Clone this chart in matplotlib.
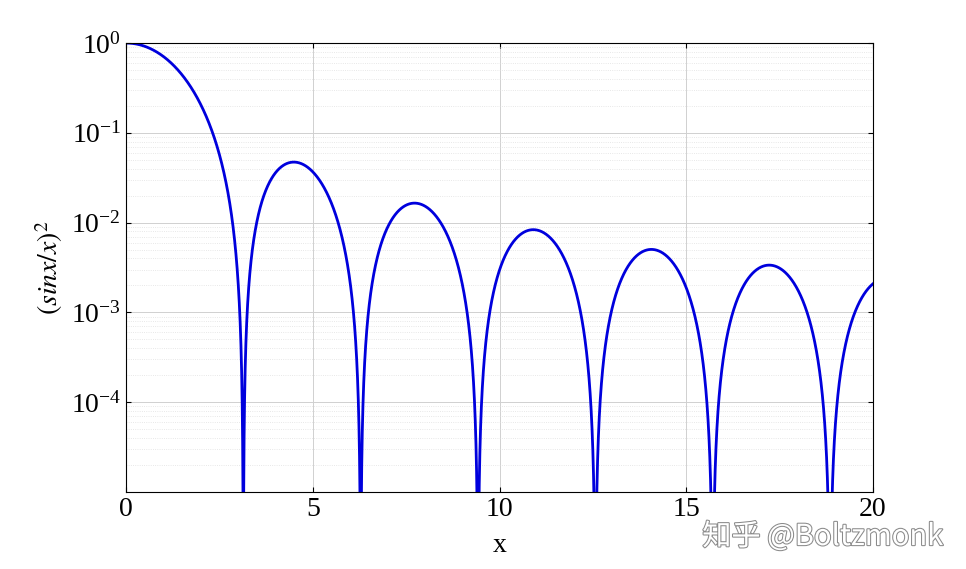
import numpy as np
import matplotlib
matplotlib.use("Agg")
import matplotlib.pyplot as plt
import matplotlib.patheffects as pe

plt.rcParams['font.family'] = ['Liberation Serif', 'DejaVu Serif']
plt.rcParams['mathtext.fontset'] = 'stix'

x_min, x_max = 0, 20
x = np.linspace(1e-6, x_max, 20001)
y = (np.sin(x) / x) ** 2

xticks = [0, 5, 10, 15, 20]
yticks = [1e-4, 1e-3, 1e-2, 1e-1, 1e0]
ytick_labels = [r'$\mathregular{10^{-4}}$', r'$\mathregular{10^{-3}}$', r'$\mathregular{10^{-2}}$',
                r'$\mathregular{10^{-1}}$', r'$\mathregular{10^{0}}$']

fig = plt.figure(figsize=(9.66, 5.69), dpi=100)
ax = fig.add_axes([126/966, 1-492/569, (873-126)/966, (492-43)/569])
ax.semilogy(x, y, color='#0000dd', lw=2)
ax.set_xlim(x_min, x_max)
ax.set_ylim(1e-5, 1)
ax.set_xticks(xticks)
ax.set_yticks(yticks)
ax.set_yticklabels(ytick_labels)
ax.grid(True, which='major', color='#d0d0d0', lw=0.7)
ax.grid(True, which='minor', color='#e0e0e0', lw=0.6, ls=':')
ax.tick_params(which='both', direction='in', top=True, right=True, labelsize=20)
ax.tick_params(which='minor', length=0)
for s in ax.spines.values():
    s.set_linewidth(0.8)
ax.set_xlabel('x', fontsize=20, labelpad=8)
ax.set_ylabel(r'$(sin x/x)^2$', fontsize=20)

fig.text(0.727, 0.042, '知乎 @Boltzmonk', fontsize=21, color='white',
         family=['Noto Sans CJK SC', 'DejaVu Sans'],
         path_effects=[pe.withStroke(linewidth=1.5, foreground='#8a8a8a')])

fig.savefig('out.png', dpi=100)
